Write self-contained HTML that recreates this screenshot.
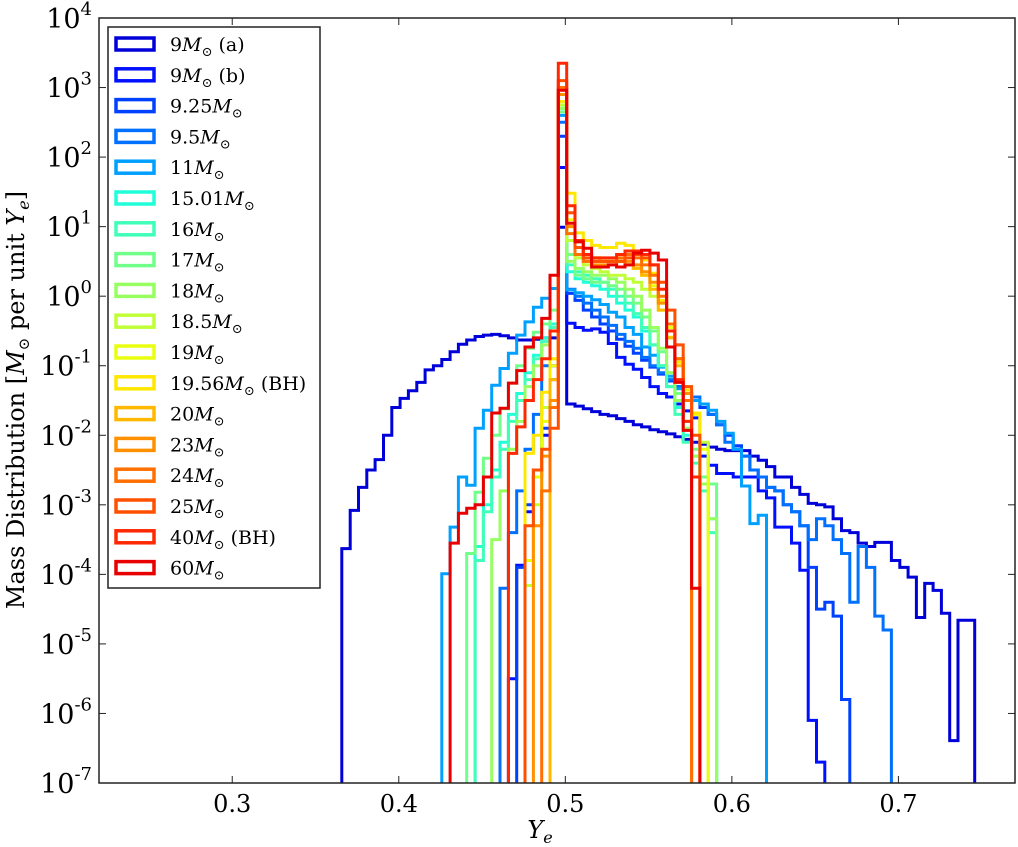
<!DOCTYPE html>
<html><head><meta charset="utf-8"><style>
html,body{margin:0;padding:0;background:#fff;}
svg{display:block;font-family:"DejaVu Serif","Liberation Serif",serif;}
</style></head><body>
<svg id="chart" width="1018" height="847" viewBox="0 0 1018 847" xmlns="http://www.w3.org/2000/svg">
<defs><clipPath id="plotclip"><rect x="99" y="18" width="916" height="765"/></clipPath></defs>
<rect x="0" y="0" width="1018" height="847" fill="#fff"/>
<g id="series" clip-path="url(#plotclip)"></g>
<rect x="99" y="18" width="916" height="765" fill="none" stroke="#222" stroke-width="1.5"/>
<g id="ticks"></g>
<text x="540" y="838" font-size="24" font-style="italic" text-anchor="middle">Y<tspan font-size="16" dy="5">e</tspan></text>
<text transform="translate(24,400) rotate(-90)" font-size="24" text-anchor="middle">Mass Distribution [<tspan font-style="italic">M</tspan><tspan font-size="15" dy="5">⊙</tspan><tspan dy="-5"> per unit </tspan><tspan font-style="italic">Y</tspan><tspan font-size="16" dy="5" font-style="italic">e</tspan><tspan dy="-5">]</tspan></text>
<g id="legend">
<rect x="108" y="27" width="212" height="561" fill="#fff" stroke="#222" stroke-width="1.5"/>
</g>
</svg>
<script>
const binWidth = 0.005;
const seriesNames = ["9M (a)","9M (b)","9.25M","9.5M","11M","15.01M","16M","17M","18M","18.5M","19M","19.56M (BH)","20M","23M","24M","25M","40M (BH)","60M"];
const seriesStarts = [0.3658,0.4658,0.4708,0.4608,0.4258,0.4458,0.4458,0.4408,0.4558,0.4758,0.4758,0.4758,0.4908,0.4808,0.4858,0.4758,0.4658,0.4308];
// log10 of mass per unit Ye, one value per bin
const m9a = [-3.63,-3.08,-2.75,-2.5,-2.35,-2.0,-1.6,-1.47,-1.36,-1.24,-1.06,-1.0,-0.91,-0.8,-0.69,-0.63,-0.58,-0.56,-0.55,-0.57,-0.6,-0.63,-0.63,-0.62,-0.6,-0.6,0.99,-1.55,-1.58,-1.62,-1.66,-1.7,-1.72,-1.76,-1.8,-1.85,-1.88,-1.92,-1.95,-1.98,-2.02,-2.06,-2.1,-2.13,-2.17,-2.2,-2.22,-2.22,-2.22,-2.3,-2.36,-2.45,-2.6,-2.6,-2.75,-2.85,-2.98,-3.0,-3.03,-3.2,-3.37,-3.4,-3.55,-3.6,-3.54,-3.54,-3.8,-3.9,-4.04,-4.62,-4.13,-4.23,-4.56,-6.39,-4.66,-4.66];
const m9b = [-5.5,-3.87,-3.1,-2.6,-2.0,-1.0,1.85,-0.39,-0.45,-0.49,-0.47,-0.52,-0.68,-0.88,-0.98,-1.05,-1.17,-1.3,-1.4,-1.45,-1.55,-1.65,-1.75,-2.3,-2.43,-2.55,-2.55,-2.6,-2.6,-2.6,-2.8,-2.9,-3.32,-3.32,-3.55,-3.94,-6.1,-6.7];
const m925 = [-3.9,-3.0,-2.5,-1.9,-1.2,2.3,0.04,-0.06,-0.2,-0.3,-0.4,-0.5,-0.62,-0.72,-0.82,-0.92,-1.02,-1.12,-1.22,-1.3,-1.4,-1.5,-1.6,-1.7,-1.85,-2.0,-2.15,-2.3,-2.5,-2.6,-2.75,-2.8,-3.0,-3.1,-3.3,-3.9,-4.5,-4.4,-4.6,-5.8];
const m95 = [-4.2,-3.4,-2.8,-2.2,-1.7,-1.0,-0.4,2.5,0.1,0.0,-0.1,-0.2,-0.3,-0.42,-0.55,-0.65,-0.75,-0.88,-1.0,-1.1,-1.2,-1.3,-1.4,-1.45,-1.55,-1.7,-1.85,-2.1,-2.2,-2.3,-2.5,-2.6,-2.75,-2.8,-3.0,-3.1,-3.3,-3.5,-3.2,-3.3,-3.5,-3.7,-4.4,-3.6,-3.9,-4.6,-4.8];
const m11 = [-3.99,-3.32,-2.6,-2.72,-1.9,-1.64,-1.28,-1.04,-0.82,-0.56,-0.37,-0.16,-0.03,0.11,2.6,0.09,0.05,0.0,-0.05,-0.12,-0.23,-0.3,-0.45,-0.55,-0.73,-0.85,-1.02,-1.15,-1.33,-1.4,-1.5,-1.55,-1.64,-1.8,-1.97,-2.2,-2.73,-3.27,-3.15];
const m1501 = [-3.6,-3.0,-2.5,-2.1,-1.7,-1.4,-1.1,-0.85,-0.6,-0.4,2.7,0.35,0.25,0.2,0.15,0.1,0.0,-0.1,-0.2,-0.3,-0.5,-0.7,-1.0,-1.3,-1.6,-2.0,-2.3,-2.6,-3.2];
const m16 = [-3.8,-3.1,-2.6,-2.2,-1.8,-1.5,-1.2,-0.9,-0.65,-0.45,2.7,0.45,0.35,0.3,0.25,0.2,0.1,0.0,-0.1,-0.25,-0.45,-0.7,-1.0,-1.3,-1.7,-2.1,-2.4,-2.8,-3.4];
const m17 = [-3.7,-2.82,-2.33,-2.0,-1.62,-1.25,-1.0,-0.75,-0.52,-0.4,-0.2,2.65,0.6,0.3,0.25,0.2,0.2,0.15,0.1,0.0,-0.1,-0.3,-0.5,-0.8,-1.1,-1.4,-1.8,-2.2,-2.6,-2.7];
const m18 = [-3.5,-2.8,-2.2,-1.8,-1.3,-1.0,-0.7,-0.5,2.7,0.5,0.4,0.35,0.3,0.3,0.25,0.2,0.1,0.0,-0.2,-0.45,-0.75,-1.1,-1.5,-1.9,-2.3,-2.7,-3.2];
const m185 = [-4.16,-3.0,-1.6,-0.9,2.75,0.8,0.55,0.45,0.4,0.35,0.3,0.3,0.25,0.2,0.1,0.0,-0.2,-0.5,-0.9,-1.3,-1.7,-2.1];
const m19 = [-3.8,-2.6,-1.8,-1.0,2.8,1.1,0.7,0.6,0.55,0.5,0.5,0.5,0.45,0.4,0.3,0.15,-0.1,-0.45,-0.9,-1.3,-1.7,-2.2];
const m1956 = [-2.26,-2.0,-1.38,-0.9,2.8,1.48,0.91,0.8,0.73,0.7,0.7,0.76,0.73,0.62,0.52,0.33,-0.06,-0.59,-0.95,-1.35,-1.68];
const m20 = [-1.2,2.9,1.0,0.7,0.6,0.55,0.5,0.5,0.5,0.45,0.4,0.3,0.1,-0.2,-0.6,-1.0,-1.5];
const m23 = [-3.3,-2.3,-1.5,2.9,1.0,0.6,0.5,0.45,0.45,0.45,0.5,0.5,0.45,0.35,0.2,-0.1,-0.5,-0.9,-1.4];
const m24 = [-2.8,-1.6,3.0,0.9,0.6,0.5,0.5,0.5,0.5,0.55,0.6,0.55,0.45,0.3,0.0,-0.4,-0.9,-1.5];
const m25 = [-3.3,-2.5,-2.2,-1.9,3.1,1.2,0.7,0.55,0.5,0.5,0.5,0.5,0.55,0.6,0.55,0.45,0.2,-0.2,-0.7,-1.3,-2.0];
const m40 = [-2.26,-1.88,-1.5,-1.2,-0.9,-0.5,3.35,1.3,0.8,0.6,0.55,0.55,0.55,0.6,0.65,0.65,0.6,0.45,0.1,-0.5,-1.2,-1.8,-2.6];
const m60 = [-3.55,-3.12,-3.05,-3.0,-2.6,-1.68,-1.61,-1.25,-1.07,-0.73,-0.6,-0.32,0.3,2.96,1.05,0.78,0.69,0.42,0.42,0.45,0.42,0.45,0.62,0.66,0.62,0.52,-0.73,-1.24,-1.93,-4.2];
const seriesValues = [m9a,m9b,m925,m95,m11,m1501,m16,m17,m18,m185,m19,m1956,m20,m23,m24,m25,m40,m60];
const xTicks = [0.3,0.4,0.5,0.6,0.7];
const xTickLabels = ["0.3","0.4","0.5","0.6","0.7"];
const yTickExps = [4,3,2,1,0,-1,-2,-3,-4,-5,-6,-7];

const colors = ["#0000d8","#0010ff","#0040ff","#0070ff","#00a0ff","#20ffd8","#40ffb8","#70ff88","#98ff60","#c0ff38","#e8ff10","#ffe800","#ffb800","#ff9000","#ff7000","#ff5000","#ff2800","#e80000"];
const X0=99, X1=1015, Y0=18, Y1=783, XMIN=0.22, XMAX=0.77, LMAX=4, LMIN=-7;
function xS(v){return X0+(v-XMIN)*(X1-X0)/(XMAX-XMIN);}
function yS(l){return Y0+(LMAX-l)*(Y1-Y0)/(LMAX-LMIN);}
const NS="http://www.w3.org/2000/svg";
const sg=document.getElementById('series');
seriesValues.forEach((vals,si)=>{
  const s=seriesStarts[si];
  let d="M"+xS(s).toFixed(1)+","+(Y1+5);
  vals.forEach((l,i)=>{
    const y=Math.min(yS(l),Y1+5).toFixed(1);
    d+=" V"+y+" H"+xS(s+(i+1)*binWidth).toFixed(1);
  });
  d+=" V"+(Y1+5);
  const p=document.createElementNS(NS,'path');
  p.setAttribute('d',d);
  p.setAttribute('fill','none');
  p.setAttribute('stroke',colors[si]);
  p.setAttribute('stroke-width','3');
  p.setAttribute('stroke-linejoin','miter');
  
  
  sg.appendChild(p);
});
const tg=document.getElementById('ticks');
function line(x1,y1,x2,y2){const l=document.createElementNS(NS,'line');l.setAttribute('x1',x1);l.setAttribute('y1',y1);l.setAttribute('x2',x2);l.setAttribute('y2',y2);l.setAttribute('stroke','#222');l.setAttribute('stroke-width','1');


tg.appendChild(l);}
xTicks.forEach((v,i)=>{
  const x=xS(v);
  line(x,Y1,x,Y1-7);line(x,Y0,x,Y0+7);
  const t=document.createElementNS(NS,'text');
  t.setAttribute('x',x);t.setAttribute('y',812);t.setAttribute('font-size','24');t.setAttribute('text-anchor','middle');
  t.textContent=xTickLabels[i];
  
  
  tg.appendChild(t);
});
yTickExps.forEach(e=>{
  const y=yS(e);
  line(X0,y,X0+7,y);line(X1,y,X1-7,y);
  const t=document.createElementNS(NS,'text');
  t.setAttribute('x',92);t.setAttribute('y',y+10);t.setAttribute('font-size','27');t.setAttribute('text-anchor','end');
  const sup=document.createElementNS(NS,'tspan');
  sup.setAttribute('font-size','18');sup.setAttribute('dy','-13');
  sup.textContent=String(e);
  t.textContent='10';t.appendChild(sup);
  
  
  tg.appendChild(t);
});
const lg=document.getElementById('legend');
seriesNames.forEach((n,i)=>{
  const cy=44+i*30.8;
  const r=document.createElementNS(NS,'rect');
  r.setAttribute('x',116);r.setAttribute('y',cy-6);r.setAttribute('width',38);r.setAttribute('height',12);
  r.setAttribute('fill','none');r.setAttribute('stroke',colors[i]);r.setAttribute('stroke-width','3.5');
  
  
  lg.appendChild(r);
  const t=document.createElementNS(NS,'text');
  t.setAttribute('x',170);t.setAttribute('y',cy+7);t.setAttribute('font-size','19');
  const parts=n.split('M');
  const a=document.createElementNS(NS,'tspan');a.textContent=parts[0];t.appendChild(a);
  const m=document.createElementNS(NS,'tspan');m.setAttribute('font-style','italic');m.textContent='M';t.appendChild(m);
  const o=document.createElementNS(NS,'tspan');o.setAttribute('font-size','13');o.setAttribute('dy','5');o.textContent='⊙';t.appendChild(o);
  if(parts[1]){const b=document.createElementNS(NS,'tspan');b.setAttribute('dy','-5');b.textContent='\u00a0'+parts[1].trim();t.appendChild(b);}
  
  
  lg.appendChild(t);
});
</script>
</body></html>
